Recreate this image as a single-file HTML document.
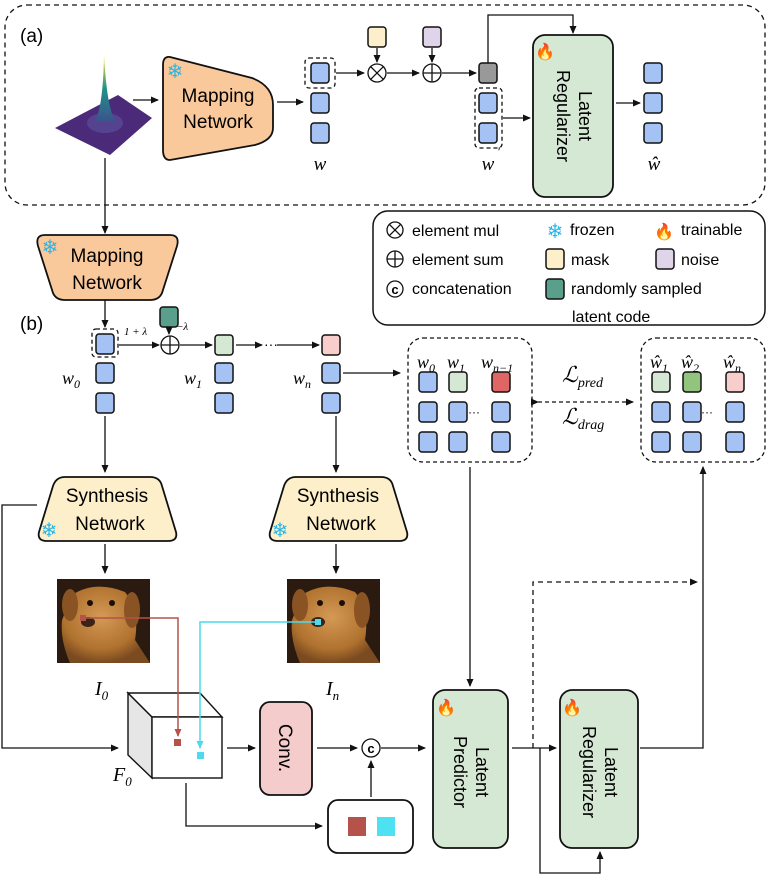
<!DOCTYPE html>
<html><head><meta charset="utf-8"><style>
body{margin:0;background:#fff}
svg{display:block;font-family:"Liberation Sans",sans-serif}
.m{font-family:"Liberation Serif",serif;font-style:italic}
</style></head><body>
<svg width="773" height="880" viewBox="0 0 773 880" xmlns="http://www.w3.org/2000/svg">
<defs>
<marker id="a" markerWidth="8" markerHeight="8" refX="7" refY="4" orient="auto" markerUnits="userSpaceOnUse"><path d="M0,0.5 L8,4 L0,7.5 z" fill="#111"/></marker>
<marker id="ar" markerWidth="8" markerHeight="8" refX="7" refY="4" orient="auto" markerUnits="userSpaceOnUse"><path d="M0,0.5 L8,4 L0,7.5 z" fill="#b5524a"/></marker>
<marker id="ac" markerWidth="8" markerHeight="8" refX="7" refY="4" orient="auto" markerUnits="userSpaceOnUse"><path d="M0,0.5 L8,4 L0,7.5 z" fill="#4dd9ee"/></marker>
<linearGradient id="pk" x1="0" y1="1" x2="0" y2="0"><stop offset="0" stop-color="#3b528b"/><stop offset="0.5" stop-color="#21918c"/><stop offset="1" stop-color="#fde725"/></linearGradient>
<radialGradient id="dog" cx="0.45" cy="0.4" r="0.6"><stop offset="0" stop-color="#d49a55"/><stop offset="0.7" stop-color="#b0722f"/><stop offset="1" stop-color="#7a4a20"/></radialGradient>
</defs>
<g fill="none" stroke="#111" stroke-width="1.3">
<rect x="5" y="5" width="760" height="200" rx="22" stroke-dasharray="5,4"/>
</g>
<text x="20" y="42" font-size="19">(a)</text>
<polygon points="55,128 118,95 152,118 110,155" fill="#4b2a7a"/>
<ellipse cx="105" cy="123" rx="18" ry="10" fill="#5b4e9a" opacity="0.7"/>
<path d="M94,122 Q103,110 104,55 Q107,110 116,122 Z" fill="url(#pk)"/>
<g stroke="#111" stroke-width="1.3" fill="none">
<line x1="133" y1="100" x2="158" y2="100" marker-end="url(#a)"/>
<path d="M170,57 L252,78 Q273,86 273,105 L273,128 Q273,140 255,145 L170,160 Q163,160 163,150 L163,65 Q163,56 170,57 Z" fill="#f9c89b" stroke-width="1.8"/>
<line x1="277" y1="102" x2="303" y2="102" marker-end="url(#a)"/>
<rect x="305" y="58" width="30" height="30" rx="4" stroke-dasharray="4,3"/>
<line x1="336" y1="73" x2="364" y2="73" marker-end="url(#a)"/>
<circle cx="377" cy="73" r="9"/><path d="M370.6,66.6 L383.4,79.4 M383.4,66.6 L370.6,79.4"/>
<line x1="377" y1="48" x2="377" y2="62" marker-end="url(#a)"/>
<line x1="387" y1="73" x2="419" y2="73" marker-end="url(#a)"/>
<circle cx="432" cy="73" r="9"/><path d="M423,73 H441 M432,64 V82"/>
<line x1="432" y1="48" x2="432" y2="62" marker-end="url(#a)"/>
<line x1="442" y1="73" x2="476" y2="73" marker-end="url(#a)"/>
<path d="M488,63 V15 H573 V33" marker-end="url(#a)"/>
<rect x="475" y="88" width="27" height="60" rx="4" stroke-dasharray="4,3"/>
<line x1="503" y1="118" x2="530" y2="118" marker-end="url(#a)"/>
<rect x="533" y="35" width="80" height="162" rx="12" fill="#d5e8d4" stroke-width="1.8"/>
<line x1="616" y1="103" x2="640" y2="103" marker-end="url(#a)"/>
</g>
<g stroke="#111" stroke-width="1.5">
<rect x="311" y="63" width="18" height="20" rx="3" fill="#a4c2f4"/>
<rect x="311" y="93" width="18" height="20" rx="3" fill="#a4c2f4"/>
<rect x="311" y="123" width="18" height="20" rx="3" fill="#a4c2f4"/>
<rect x="368" y="27" width="18" height="20" rx="3" fill="#fdefc9"/>
<rect x="423" y="27" width="18" height="20" rx="3" fill="#e0d4ea"/>
<rect x="479" y="63" width="18" height="20" rx="3" fill="#999"/>
<rect x="479" y="93" width="18" height="20" rx="3" fill="#a4c2f4"/>
<rect x="479" y="123" width="18" height="20" rx="3" fill="#a4c2f4"/>
<rect x="644" y="63" width="18" height="20" rx="3" fill="#a4c2f4"/>
<rect x="644" y="93" width="18" height="20" rx="3" fill="#a4c2f4"/>
<rect x="644" y="123" width="18" height="20" rx="3" fill="#a4c2f4"/>
</g>
<text x="218" y="102" font-size="19" text-anchor="middle">Mapping</text>
<text x="218" y="128" font-size="19" text-anchor="middle">Network</text>
<text x="175" y="78" font-size="20" fill="#29b6e8" text-anchor="middle">❄</text>
<text x="545" y="57" font-size="16" fill="#f4511e" text-anchor="middle">🔥</text>
<g transform="translate(573,116) rotate(90)" font-size="18" text-anchor="middle"><text y="-6">Latent</text><text y="16">Regularizer</text></g>
<text x="320" y="170" font-size="19" class="m" text-anchor="middle">w</text>
<text x="488" y="170" font-size="19" class="m" text-anchor="middle">w</text><text x="498" y="156" font-size="12">′</text>
<text x="654" y="170" font-size="19" class="m" text-anchor="middle">ŵ</text>

<rect x="373" y="211" width="392" height="114" rx="15" fill="none" stroke="#111" stroke-width="1.5"/>
<g stroke="#111" stroke-width="1.3" fill="none">
<circle cx="395" cy="230" r="8"/><path d="M389.3,224.3 L400.7,235.7 M400.7,224.3 L389.3,235.7"/>
<circle cx="395" cy="259" r="8"/><path d="M387,259 H403 M395,251 V267"/>
<circle cx="395" cy="289" r="8"/>
</g>
<text x="395" y="294" font-size="13" text-anchor="middle" font-weight="bold">c</text>
<g font-size="16">
<text x="412" y="236">element mul</text>
<text x="412" y="265">element sum</text>
<text x="412" y="294">concatenation</text>
<text x="570" y="235">frozen</text>
<text x="571" y="265">mask</text>
<text x="571" y="294">randomly sampled</text>
<text x="572" y="322">latent code</text>
<text x="681" y="235">trainable</text>
<text x="681" y="265">noise</text>
</g>
<text x="555" y="238" font-size="20" fill="#29b6e8" text-anchor="middle">❄</text>
<text x="664" y="237" font-size="16" text-anchor="middle" fill="#f4511e">🔥</text>
<g stroke="#111" stroke-width="1.5">
<rect x="546" y="249" width="18" height="20" rx="3" fill="#fdefc9"/>
<rect x="656" y="249" width="18" height="20" rx="3" fill="#e0d4ea"/>
<rect x="546" y="279" width="18" height="20" rx="3" fill="#5a9e8c"/>
</g>

<g stroke="#111" stroke-width="1.3" fill="none">
<line x1="105" y1="158" x2="105" y2="233" marker-end="url(#a)"/>
<path d="M45,235 H170 Q180,235 177,246 L162,293 Q159,300 150,300 H65 Q56,300 53,293 L38,246 Q35,235 45,235 Z" fill="#f9c89b" stroke-width="1.8"/>
<line x1="105" y1="300" x2="105" y2="327" marker-end="url(#a)"/>
<rect x="92" y="329" width="26" height="28" rx="4" stroke-dasharray="4,3"/>
<line x1="119" y1="345" x2="159" y2="345" marker-end="url(#a)"/>
<line x1="169" y1="328" x2="169" y2="334" marker-end="url(#a)"/>
<circle cx="170" cy="345" r="9"/><path d="M161,345 H179 M170,336 V354"/>
<line x1="180" y1="345" x2="212" y2="345" marker-end="url(#a)"/>
<line x1="236" y1="345" x2="262" y2="345" marker-end="url(#a)"/>
<line x1="277" y1="345" x2="319" y2="345" marker-end="url(#a)"/>
<line x1="343" y1="373" x2="400" y2="373" marker-end="url(#a)"/>
<rect x="408" y="338" width="124" height="124" rx="15" stroke-dasharray="4,3"/>
<rect x="641" y="338" width="124" height="124" rx="15" stroke-dasharray="4,3"/>
<line x1="538" y1="402" x2="633" y2="402" stroke-dasharray="4,3" marker-end="url(#a)" marker-start="url(#a)"/>
<line x1="470" y1="467" x2="470" y2="686" marker-end="url(#a)"/>
<line x1="105" y1="416" x2="105" y2="472" marker-end="url(#a)"/>
<line x1="336" y1="416" x2="336" y2="472" marker-end="url(#a)"/>
<path d="M65,477 H150 Q160,477 162,486 L176,532 Q178,541 168,541 H47 Q37,541 39,532 L53,486 Q56,477 65,477 Z" fill="#fdefc9" stroke-width="1.8"/>
<path d="M296,477 H381 Q391,477 393,486 L407,532 Q409,541 399,541 H278 Q268,541 270,532 L284,486 Q287,477 296,477 Z" fill="#fdefc9" stroke-width="1.8"/>
<line x1="105" y1="544" x2="105" y2="573" marker-end="url(#a)"/>
<line x1="336" y1="544" x2="336" y2="573" marker-end="url(#a)"/>
<path d="M37,505 H2 V748 H118" marker-end="url(#a)"/>
</g>
<text x="124" y="335" font-size="11" class="m">1 + λ</text>
<text x="176" y="330" font-size="11" class="m">−λ</text>
<text x="264" y="349" font-size="14">···</text>
<g stroke="#111" stroke-width="1.5">
<rect x="160" y="307" width="18" height="20" rx="3" fill="#5a9e8c"/>
<rect x="96" y="334" width="18" height="20" rx="3" fill="#a4c2f4"/>
<rect x="96" y="363" width="18" height="20" rx="3" fill="#a4c2f4"/>
<rect x="96" y="393" width="18" height="20" rx="3" fill="#a4c2f4"/>
<rect x="215" y="335" width="18" height="20" rx="3" fill="#d5e8d4"/>
<rect x="215" y="363" width="18" height="20" rx="3" fill="#a4c2f4"/>
<rect x="215" y="393" width="18" height="20" rx="3" fill="#a4c2f4"/>
<rect x="322" y="335" width="18" height="20" rx="3" fill="#f8cecc"/>
<rect x="322" y="363" width="18" height="20" rx="3" fill="#a4c2f4"/>
<rect x="322" y="393" width="18" height="20" rx="3" fill="#a4c2f4"/>
<rect x="419" y="372" width="18" height="20" rx="3" fill="#a4c2f4"/>
<rect x="449" y="372" width="18" height="20" rx="3" fill="#d5e8d4"/>
<rect x="492" y="372" width="18" height="20" rx="3" fill="#e06666"/>
<rect x="419" y="402" width="18" height="20" rx="3" fill="#a4c2f4"/>
<rect x="449" y="402" width="18" height="20" rx="3" fill="#a4c2f4"/>
<rect x="492" y="402" width="18" height="20" rx="3" fill="#a4c2f4"/>
<rect x="419" y="432" width="18" height="20" rx="3" fill="#a4c2f4"/>
<rect x="449" y="432" width="18" height="20" rx="3" fill="#a4c2f4"/>
<rect x="492" y="432" width="18" height="20" rx="3" fill="#a4c2f4"/>
<rect x="652" y="372" width="18" height="20" rx="3" fill="#d5e8d4"/>
<rect x="683" y="372" width="18" height="20" rx="3" fill="#93c47d"/>
<rect x="726" y="372" width="18" height="20" rx="3" fill="#f8cecc"/>
<rect x="652" y="402" width="18" height="20" rx="3" fill="#a4c2f4"/>
<rect x="683" y="402" width="18" height="20" rx="3" fill="#a4c2f4"/>
<rect x="726" y="402" width="18" height="20" rx="3" fill="#a4c2f4"/>
<rect x="652" y="432" width="18" height="20" rx="3" fill="#a4c2f4"/>
<rect x="683" y="432" width="18" height="20" rx="3" fill="#a4c2f4"/>
<rect x="726" y="432" width="18" height="20" rx="3" fill="#a4c2f4"/>
</g>
<text x="468" y="416" font-size="12">···</text>
<text x="701" y="416" font-size="12">···</text>
<text x="20" y="330" font-size="19">(b)</text>
<text x="107" y="262" font-size="19" text-anchor="middle">Mapping</text>
<text x="107" y="289" font-size="19" text-anchor="middle">Network</text>
<text x="50" y="254" font-size="20" fill="#29b6e8" text-anchor="middle">❄</text>
<g class="m" font-size="18">
<text x="62" y="384">w<tspan font-size="12" dy="4">0</tspan></text>
<text x="184" y="384">w<tspan font-size="12" dy="4">1</tspan></text>
<text x="293" y="384">w<tspan font-size="12" dy="4">n</tspan></text>
<text x="417" y="368">w<tspan font-size="12" dy="4">0</tspan></text>
<text x="447" y="368">w<tspan font-size="12" dy="4">1</tspan></text>
<text x="481" y="368">w<tspan font-size="12" dy="4">n−1</tspan></text>
<text x="650" y="368">ŵ<tspan font-size="12" dy="4">1</tspan></text>
<text x="681" y="368">ŵ<tspan font-size="12" dy="4">2</tspan></text>
<text x="723" y="368">ŵ<tspan font-size="12" dy="4">n</tspan></text>
<text x="562" y="382" font-size="22">ℒ<tspan font-size="14" dy="5">pred</tspan></text>
<text x="562" y="424" font-size="22">ℒ<tspan font-size="14" dy="5">drag</tspan></text>
<text x="95" y="695" font-size="20">I<tspan font-size="13" dy="5">0</tspan></text>
<text x="326" y="695" font-size="20">I<tspan font-size="13" dy="5">n</tspan></text>
<text x="113" y="781" font-size="20">F<tspan font-size="13" dy="5">0</tspan></text>
</g>
<text x="107" y="502" font-size="19" text-anchor="middle">Synthesis</text>
<text x="110" y="530" font-size="19" text-anchor="middle">Network</text>
<text x="338" y="502" font-size="19" text-anchor="middle">Synthesis</text>
<text x="341" y="530" font-size="19" text-anchor="middle">Network</text>
<text x="49" y="537" font-size="20" fill="#29b6e8" text-anchor="middle">❄</text>
<text x="280" y="537" font-size="20" fill="#29b6e8" text-anchor="middle">❄</text>
<g id="d1">
<rect x="57" y="579" width="93" height="84" fill="#2a1a10"/>
<path d="M72,595 Q95,580 125,592 Q140,610 135,640 L150,663 H70 Q60,640 62,620 Z" fill="url(#dog)"/>
<ellipse cx="70" cy="605" rx="8" ry="16" fill="#8a5324"/>
<ellipse cx="132" cy="610" rx="8" ry="18" fill="#8a5324"/>
<circle cx="90" cy="603" r="3" fill="#1a0f08"/><circle cx="112" cy="603" r="3" fill="#1a0f08"/>
<ellipse cx="88" cy="622" rx="7" ry="5" fill="#3a2418"/>
</g>
<g transform="translate(230,0)">
<rect x="57" y="579" width="93" height="84" fill="#2a1a10"/>
<path d="M72,595 Q95,580 125,592 Q140,610 135,640 L150,663 H70 Q60,640 62,620 Z" fill="url(#dog)"/>
<ellipse cx="70" cy="605" rx="8" ry="16" fill="#8a5324"/>
<ellipse cx="132" cy="610" rx="8" ry="18" fill="#8a5324"/>
<circle cx="90" cy="603" r="3" fill="#1a0f08"/><circle cx="112" cy="603" r="3" fill="#1a0f08"/>
<ellipse cx="88" cy="622" rx="7" ry="5" fill="#3a2418"/>
</g>
<g stroke="#111" stroke-width="1.4">
<polygon points="128,693 152,717 152,778 128,755" fill="#e6e6e6"/>
<polygon points="128,693 200,693 222,717 152,717" fill="#fff"/>
<rect x="152" y="717" width="70" height="61" fill="#fff"/>
</g>
<g fill="none" stroke-width="1.5">
<path d="M83,618 H178 V736" stroke="#b5524a" marker-end="url(#ar)"/>
<path d="M318,622 H200 V748" stroke="#4dd9ee" marker-end="url(#ac)"/>
</g>
<rect x="80" y="615" width="6" height="6" fill="#b5524a"/>
<rect x="315" y="619" width="6" height="6" fill="#4dd9ee"/>
<rect x="174" y="739" width="7" height="7" fill="#b5524a"/>
<rect x="197" y="752" width="7" height="7" fill="#4dd9ee"/>
<g stroke="#111" stroke-width="1.3" fill="none">
<line x1="227" y1="748" x2="255" y2="748" marker-end="url(#a)"/>
<rect x="260" y="702" width="52" height="93" rx="10" fill="#f4cccc" stroke-width="1.8"/>
<line x1="317" y1="748" x2="357" y2="748" marker-end="url(#a)"/>
<circle cx="371" cy="748" r="9"/>
<line x1="371" y1="797" x2="371" y2="761" marker-end="url(#a)"/>
<rect x="328" y="800" width="85" height="53" rx="10" stroke-width="1.8"/>
<path d="M186,783 V826 H322" marker-end="url(#a)"/>
<line x1="381" y1="748" x2="425" y2="748" marker-end="url(#a)"/>
<rect x="433" y="690" width="75" height="158" rx="12" fill="#d5e8d4" stroke-width="1.8"/>
<rect x="560" y="690" width="78" height="158" rx="12" fill="#d5e8d4" stroke-width="1.8"/>
<line x1="512" y1="748" x2="556" y2="748" marker-end="url(#a)"/>
<path d="M540,748 V873 H600 V852" marker-end="url(#a)"/>
<path d="M533,748 V582 H697" stroke-dasharray="5,4" marker-end="url(#a)"/>
<path d="M640,748 H703 V467" marker-end="url(#a)"/>
</g>
<text x="371" y="753" font-size="13" text-anchor="middle" font-weight="bold">c</text>
<rect x="348" y="817" width="18" height="19" fill="#b5524a"/>
<rect x="377" y="817" width="18" height="19" fill="#4ee1f2"/>
<g transform="translate(286,748) rotate(90)" font-size="19" text-anchor="middle"><text y="7">Conv.</text></g>
<g transform="translate(470,772) rotate(90)" font-size="18" text-anchor="middle"><text y="-6">Latent</text><text y="16">Predictor</text></g>
<g transform="translate(599,772) rotate(90)" font-size="18" text-anchor="middle"><text y="-6">Latent</text><text y="16">Regularizer</text></g>
<text x="446" y="713" font-size="16" fill="#f4511e" text-anchor="middle">🔥</text>
<text x="572" y="713" font-size="16" fill="#f4511e" text-anchor="middle">🔥</text>
</svg>
</body></html>
